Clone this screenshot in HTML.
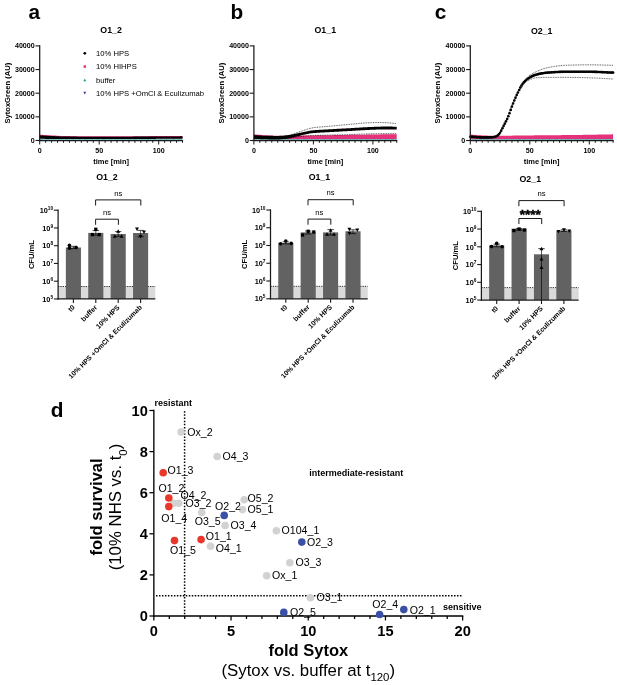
<!DOCTYPE html>
<html lang="en"><head><meta charset="utf-8"><title>Figure</title>
<style>html,body{margin:0;padding:0;background:#fff;}body{width:617px;height:685px;overflow:hidden;font-family:"Liberation Sans", Arial, Helvetica, sans-serif;}svg text{font-family:"Liberation Sans", Arial, Helvetica, sans-serif;}</style>
</head><body>
<svg width="617" height="685" viewBox="0 0 617 685" font-family='"Liberation Sans", Arial, Helvetica, sans-serif' style="display:block">
<text x="28.60" y="19.20" font-size="20.8" font-weight="bold">a</text>
<text x="230.60" y="19.20" font-size="20.8" font-weight="bold">b</text>
<text x="434.80" y="19.20" font-size="20.8" font-weight="bold">c</text>
<text x="50.80" y="417.30" font-size="20.8" font-weight="bold">d</text>
<polygon points="39.70,134.71 40.89,134.78 42.08,134.85 43.27,134.92 44.46,135.00 45.65,135.07 46.84,135.14 48.03,135.21 49.22,135.28 50.41,135.35 51.60,135.42 52.79,135.48 53.98,135.55 55.17,135.62 56.36,135.69 57.55,135.76 58.74,135.83 59.93,135.89 61.12,135.94 62.31,135.98 63.50,136.01 64.69,136.03 65.88,136.05 67.07,136.07 68.26,136.09 69.45,136.11 70.64,136.13 71.83,136.15 73.02,136.16 74.21,136.18 75.40,136.20 76.59,136.21 77.78,136.23 78.97,136.24 80.16,136.25 81.35,136.27 82.54,136.28 83.73,136.29 84.92,136.30 86.11,136.31 87.30,136.32 88.49,136.33 89.68,136.33 90.87,136.34 92.06,136.35 93.25,136.35 94.44,136.35 95.63,136.36 96.82,136.36 98.01,136.36 99.20,136.36 100.39,136.36 101.58,136.36 102.77,136.36 103.96,136.36 105.15,136.36 106.34,136.35 107.53,136.35 108.72,136.35 109.91,136.35 111.10,136.34 112.29,136.34 113.48,136.34 114.67,136.33 115.86,136.33 117.05,136.32 118.24,136.32 119.43,136.31 120.62,136.31 121.81,136.30 123.00,136.30 124.19,136.29 125.38,136.28 126.57,136.28 127.76,136.27 128.95,136.26 130.14,136.25 131.33,136.25 132.52,136.24 133.71,136.23 134.90,136.22 136.09,136.22 137.28,136.21 138.47,136.20 139.66,136.19 140.85,136.18 142.04,136.18 143.23,136.17 144.42,136.16 145.61,136.15 146.80,136.14 147.99,136.13 149.18,136.12 150.37,136.11 151.56,136.10 152.75,136.10 153.94,136.09 155.13,136.08 156.32,136.07 157.51,136.06 158.70,136.05 159.89,136.04 161.08,136.03 162.27,136.02 163.46,136.02 164.65,136.01 165.84,136.00 167.03,135.99 168.22,135.98 169.41,135.97 170.60,135.96 171.79,135.96 172.98,135.95 174.17,135.94 175.36,135.93 176.55,135.92 177.74,135.92 178.93,135.91 180.12,135.90 181.31,135.90 182.50,135.89 182.50,138.37 181.31,138.37 180.12,138.37 178.93,138.37 177.74,138.37 176.55,138.37 175.36,138.37 174.17,138.37 172.98,138.37 171.79,138.37 170.60,138.37 169.41,138.37 168.22,138.37 167.03,138.37 165.84,138.37 164.65,138.37 163.46,138.37 162.27,138.37 161.08,138.37 159.89,138.37 158.70,138.37 157.51,138.37 156.32,138.37 155.13,138.37 153.94,138.37 152.75,138.37 151.56,138.37 150.37,138.37 149.18,138.37 147.99,138.37 146.80,138.37 145.61,138.37 144.42,138.37 143.23,138.37 142.04,138.37 140.85,138.37 139.66,138.37 138.47,138.37 137.28,138.37 136.09,138.37 134.90,138.37 133.71,138.37 132.52,138.37 131.33,138.37 130.14,138.37 128.95,138.37 127.76,138.37 126.57,138.37 125.38,138.37 124.19,138.37 123.00,138.37 121.81,138.37 120.62,138.37 119.43,138.37 118.24,138.37 117.05,138.37 115.86,138.37 114.67,138.37 113.48,138.37 112.29,138.37 111.10,138.37 109.91,138.37 108.72,138.37 107.53,138.37 106.34,138.37 105.15,138.37 103.96,138.37 102.77,138.37 101.58,138.37 100.39,138.37 99.20,138.37 98.01,138.37 96.82,138.37 95.63,138.37 94.44,138.37 93.25,138.37 92.06,138.37 90.87,138.37 89.68,138.37 88.49,138.37 87.30,138.37 86.11,138.37 84.92,138.37 83.73,138.37 82.54,138.37 81.35,138.37 80.16,138.37 78.97,138.37 77.78,138.37 76.59,138.37 75.40,138.37 74.21,138.37 73.02,138.37 71.83,138.37 70.64,138.37 69.45,138.37 68.26,138.37 67.07,138.37 65.88,138.37 64.69,138.37 63.50,138.37 62.31,138.37 61.12,138.37 59.93,138.37 58.74,138.37 57.55,138.37 56.36,138.37 55.17,138.37 53.98,138.37 52.79,138.37 51.60,138.37 50.41,138.37 49.22,138.37 48.03,138.37 46.84,138.37 45.65,138.37 44.46,138.37 43.27,138.37 42.08,138.37 40.89,138.37 39.70,138.37" fill="#e6317b"/>
<polygon points="39.70,135.42 40.89,135.47 42.08,135.54 43.27,135.60 44.46,135.66 45.65,135.72 46.84,135.78 48.03,135.84 49.22,135.90 50.41,135.95 51.60,136.01 52.79,136.06 53.98,136.12 55.17,136.18 56.36,136.23 57.55,136.29 58.74,136.34 59.93,136.39 61.12,136.43 62.31,136.46 63.50,136.48 64.69,136.49 65.88,136.51 67.07,136.52 68.26,136.54 69.45,136.55 70.64,136.56 71.83,136.58 73.02,136.59 74.21,136.60 75.40,136.61 76.59,136.62 77.78,136.63 78.97,136.64 80.16,136.65 81.35,136.66 82.54,136.66 83.73,136.67 84.92,136.68 86.11,136.68 87.30,136.69 88.49,136.69 89.68,136.70 90.87,136.70 92.06,136.71 93.25,136.71 94.44,136.71 95.63,136.71 96.82,136.71 98.01,136.72 99.20,136.72 100.39,136.72 101.58,136.72 102.77,136.71 103.96,136.71 105.15,136.71 106.34,136.71 107.53,136.71 108.72,136.71 109.91,136.71 111.10,136.70 112.29,136.70 113.48,136.70 114.67,136.69 115.86,136.69 117.05,136.69 118.24,136.68 119.43,136.68 120.62,136.68 121.81,136.67 123.00,136.67 124.19,136.66 125.38,136.66 126.57,136.65 127.76,136.65 128.95,136.64 130.14,136.64 131.33,136.63 132.52,136.63 133.71,136.62 134.90,136.61 136.09,136.61 137.28,136.60 138.47,136.60 139.66,136.59 140.85,136.58 142.04,136.58 143.23,136.57 144.42,136.56 145.61,136.56 146.80,136.55 147.99,136.54 149.18,136.54 150.37,136.53 151.56,136.52 152.75,136.52 153.94,136.51 155.13,136.50 156.32,136.50 157.51,136.49 158.70,136.48 159.89,136.48 161.08,136.47 162.27,136.46 163.46,136.46 164.65,136.45 165.84,136.44 167.03,136.44 168.22,136.43 169.41,136.42 170.60,136.42 171.79,136.41 172.98,136.41 174.17,136.40 175.36,136.39 176.55,136.39 177.74,136.38 178.93,136.38 180.12,136.37 181.31,136.37 182.50,136.36 182.50,138.84 181.31,138.85 180.12,138.85 178.93,138.85 177.74,138.85 176.55,138.85 175.36,138.85 174.17,138.85 172.98,138.85 171.79,138.86 170.60,138.86 169.41,138.86 168.22,138.86 167.03,138.86 165.84,138.86 164.65,138.86 163.46,138.87 162.27,138.87 161.08,138.87 159.89,138.87 158.70,138.87 157.51,138.87 156.32,138.87 155.13,138.88 153.94,138.88 152.75,138.88 151.56,138.88 150.37,138.88 149.18,138.88 147.99,138.89 146.80,138.89 145.61,138.89 144.42,138.89 143.23,138.89 142.04,138.89 140.85,138.90 139.66,138.90 138.47,138.90 137.28,138.90 136.09,138.90 134.90,138.90 133.71,138.90 132.52,138.91 131.33,138.91 130.14,138.91 128.95,138.91 127.76,138.91 126.57,138.91 125.38,138.92 124.19,138.92 123.00,138.92 121.81,138.92 120.62,138.92 119.43,138.92 118.24,138.92 117.05,138.93 115.86,138.93 114.67,138.93 113.48,138.93 112.29,138.93 111.10,138.93 109.91,138.93 108.72,138.94 107.53,138.94 106.34,138.94 105.15,138.94 103.96,138.94 102.77,138.94 101.58,138.94 100.39,138.94 99.20,138.94 98.01,138.95 96.82,138.95 95.63,138.95 94.44,138.95 93.25,138.95 92.06,138.95 90.87,138.95 89.68,138.95 88.49,138.95 87.30,138.95 86.11,138.96 84.92,138.96 83.73,138.96 82.54,138.96 81.35,138.96 80.16,138.96 78.97,138.96 77.78,138.96 76.59,138.96 75.40,138.96 74.21,138.96 73.02,138.96 71.83,138.96 70.64,138.96 69.45,138.96 68.26,138.96 67.07,138.96 65.88,138.96 64.69,138.96 63.50,138.96 62.31,138.96 61.12,138.96 59.93,138.96 58.74,138.95 57.55,138.95 56.36,138.94 55.17,138.94 53.98,138.93 52.79,138.93 51.60,138.92 50.41,138.91 49.22,138.90 48.03,138.90 46.84,138.89 45.65,138.88 44.46,138.87 43.27,138.86 42.08,138.86 40.89,138.85 39.70,138.84" fill="#000"/>
<polyline points="39.70,139.46 40.89,139.46 42.08,139.46 43.27,139.46 44.46,139.46 45.65,139.46 46.84,139.46 48.03,139.46 49.22,139.46 50.41,139.46 51.60,139.46 52.79,139.46 53.98,139.46 55.17,139.46 56.36,139.46 57.55,139.46 58.74,139.46 59.93,139.46 61.12,139.46 62.31,139.46 63.50,139.46 64.69,139.46 65.88,139.46 67.07,139.46 68.26,139.46 69.45,139.46 70.64,139.46 71.83,139.46 73.02,139.46 74.21,139.46 75.40,139.46 76.59,139.46 77.78,139.46 78.97,139.46 80.16,139.46 81.35,139.46 82.54,139.46 83.73,139.46 84.92,139.46 86.11,139.46 87.30,139.46 88.49,139.46 89.68,139.46 90.87,139.46 92.06,139.46 93.25,139.46 94.44,139.46 95.63,139.46 96.82,139.46 98.01,139.46 99.20,139.46 100.39,139.46 101.58,139.46 102.77,139.46 103.96,139.46 105.15,139.46 106.34,139.46 107.53,139.46 108.72,139.46 109.91,139.46 111.10,139.46 112.29,139.46 113.48,139.46 114.67,139.46 115.86,139.46 117.05,139.46 118.24,139.46 119.43,139.46 120.62,139.46 121.81,139.46 123.00,139.46 124.19,139.46 125.38,139.46 126.57,139.46 127.76,139.46 128.95,139.46 130.14,139.46 131.33,139.46 132.52,139.46 133.71,139.46 134.90,139.46 136.09,139.46 137.28,139.46 138.47,139.46 139.66,139.46 140.85,139.46 142.04,139.46 143.23,139.46 144.42,139.46 145.61,139.46 146.80,139.46 147.99,139.46 149.18,139.46 150.37,139.46 151.56,139.46 152.75,139.46 153.94,139.46 155.13,139.46 156.32,139.46 157.51,139.46 158.70,139.46 159.89,139.46 161.08,139.46 162.27,139.46 163.46,139.46 164.65,139.46 165.84,139.46 167.03,139.46 168.22,139.46 169.41,139.46 170.60,139.46 171.79,139.46 172.98,139.46 174.17,139.46 175.36,139.46 176.55,139.46 177.74,139.46 178.93,139.46 180.12,139.46 181.31,139.46 182.50,139.46" fill="none" stroke="#1f9d9b" stroke-width="0.7" stroke-linejoin="round"/>
<line x1="39.70" y1="45.30" x2="39.70" y2="141.10" stroke="#1a1a1a" stroke-width="1.25"/>
<line x1="39.10" y1="140.50" x2="183.10" y2="140.50" stroke="#1a1a1a" stroke-width="1.25"/>
<line x1="35.50" y1="140.50" x2="39.70" y2="140.50" stroke="#1a1a1a" stroke-width="1.1"/>
<text x="34.70" y="143.00" font-size="7.1" font-weight="bold" text-anchor="end">0</text>
<line x1="35.50" y1="116.85" x2="39.70" y2="116.85" stroke="#1a1a1a" stroke-width="1.1"/>
<text x="34.70" y="119.35" font-size="7.1" font-weight="bold" text-anchor="end">10000</text>
<line x1="35.50" y1="93.20" x2="39.70" y2="93.20" stroke="#1a1a1a" stroke-width="1.1"/>
<text x="34.70" y="95.70" font-size="7.1" font-weight="bold" text-anchor="end">20000</text>
<line x1="35.50" y1="69.55" x2="39.70" y2="69.55" stroke="#1a1a1a" stroke-width="1.1"/>
<text x="34.70" y="72.05" font-size="7.1" font-weight="bold" text-anchor="end">30000</text>
<line x1="35.50" y1="45.90" x2="39.70" y2="45.90" stroke="#1a1a1a" stroke-width="1.1"/>
<text x="34.70" y="48.40" font-size="7.1" font-weight="bold" text-anchor="end">40000</text>
<line x1="39.70" y1="140.50" x2="39.70" y2="144.50" stroke="#1a1a1a" stroke-width="1.0"/>
<line x1="45.65" y1="140.50" x2="45.65" y2="142.80" stroke="#1a1a1a" stroke-width="1.0"/>
<line x1="51.60" y1="140.50" x2="51.60" y2="142.80" stroke="#1a1a1a" stroke-width="1.0"/>
<line x1="57.55" y1="140.50" x2="57.55" y2="142.80" stroke="#1a1a1a" stroke-width="1.0"/>
<line x1="63.50" y1="140.50" x2="63.50" y2="142.80" stroke="#1a1a1a" stroke-width="1.0"/>
<line x1="69.45" y1="140.50" x2="69.45" y2="142.80" stroke="#1a1a1a" stroke-width="1.0"/>
<line x1="75.40" y1="140.50" x2="75.40" y2="142.80" stroke="#1a1a1a" stroke-width="1.0"/>
<line x1="81.35" y1="140.50" x2="81.35" y2="142.80" stroke="#1a1a1a" stroke-width="1.0"/>
<line x1="87.30" y1="140.50" x2="87.30" y2="142.80" stroke="#1a1a1a" stroke-width="1.0"/>
<line x1="93.25" y1="140.50" x2="93.25" y2="142.80" stroke="#1a1a1a" stroke-width="1.0"/>
<line x1="99.20" y1="140.50" x2="99.20" y2="144.50" stroke="#1a1a1a" stroke-width="1.0"/>
<line x1="105.15" y1="140.50" x2="105.15" y2="142.80" stroke="#1a1a1a" stroke-width="1.0"/>
<line x1="111.10" y1="140.50" x2="111.10" y2="142.80" stroke="#1a1a1a" stroke-width="1.0"/>
<line x1="117.05" y1="140.50" x2="117.05" y2="142.80" stroke="#1a1a1a" stroke-width="1.0"/>
<line x1="123.00" y1="140.50" x2="123.00" y2="142.80" stroke="#1a1a1a" stroke-width="1.0"/>
<line x1="128.95" y1="140.50" x2="128.95" y2="142.80" stroke="#1a1a1a" stroke-width="1.0"/>
<line x1="134.90" y1="140.50" x2="134.90" y2="142.80" stroke="#1a1a1a" stroke-width="1.0"/>
<line x1="140.85" y1="140.50" x2="140.85" y2="142.80" stroke="#1a1a1a" stroke-width="1.0"/>
<line x1="146.80" y1="140.50" x2="146.80" y2="142.80" stroke="#1a1a1a" stroke-width="1.0"/>
<line x1="152.75" y1="140.50" x2="152.75" y2="142.80" stroke="#1a1a1a" stroke-width="1.0"/>
<line x1="158.70" y1="140.50" x2="158.70" y2="144.50" stroke="#1a1a1a" stroke-width="1.0"/>
<line x1="164.65" y1="140.50" x2="164.65" y2="142.80" stroke="#1a1a1a" stroke-width="1.0"/>
<line x1="170.60" y1="140.50" x2="170.60" y2="142.80" stroke="#1a1a1a" stroke-width="1.0"/>
<line x1="176.55" y1="140.50" x2="176.55" y2="142.80" stroke="#1a1a1a" stroke-width="1.0"/>
<line x1="182.50" y1="140.50" x2="182.50" y2="142.80" stroke="#1a1a1a" stroke-width="1.0"/>
<text x="39.70" y="153.40" font-size="7.1" font-weight="bold" text-anchor="middle">0</text>
<text x="99.20" y="153.40" font-size="7.1" font-weight="bold" text-anchor="middle">50</text>
<text x="158.70" y="153.40" font-size="7.1" font-weight="bold" text-anchor="middle">100</text>
<text x="111.10" y="164.40" font-size="7.5" font-weight="bold" text-anchor="middle">time [min]</text>
<text transform="translate(9.70,93.20) rotate(-90)" font-size="7.6" font-weight="bold" text-anchor="middle">SytoxGreen (AU)</text>
<text x="111.10" y="33.40" font-size="8.8" font-weight="bold" text-anchor="middle">O1_2</text>
<circle cx="84.8" cy="53.3" r="1.35" fill="#000"/>
<rect x="83.55" y="65.3" width="2.5" height="2.5" fill="#e6317b"/>
<polygon points="83.35,81.2 86.25,81.2 84.8,78.6" fill="#1f9d9b"/>
<polygon points="83.35,91.8 86.25,91.8 84.8,94.4" fill="#5b2ca0"/>
<text x="96.00" y="55.90" font-size="7.65">10% HPS</text>
<text x="96.00" y="69.20" font-size="7.65">10% HIHPS</text>
<text x="96.00" y="82.60" font-size="7.65">buffer</text>
<text x="96.00" y="95.90" font-size="7.65">10% HPS +OmCl &amp; Eculizumab</text>
<polygon points="253.90,134.35 255.09,134.45 256.28,134.55 257.47,134.66 258.66,134.77 259.85,134.87 261.04,134.97 262.23,135.07 263.42,135.16 264.61,135.23 265.80,135.30 266.99,135.35 268.18,135.41 269.37,135.47 270.56,135.52 271.75,135.58 272.94,135.63 274.13,135.68 275.32,135.72 276.51,135.76 277.70,135.80 278.89,135.83 280.08,135.85 281.27,135.87 282.46,135.88 283.65,135.89 284.84,135.89 286.03,135.88 287.22,135.88 288.41,135.87 289.60,135.85 290.79,135.84 291.98,135.82 293.17,135.81 294.36,135.79 295.55,135.77 296.74,135.74 297.93,135.72 299.12,135.70 300.31,135.67 301.50,135.65 302.69,135.62 303.88,135.60 305.07,135.57 306.26,135.55 307.45,135.52 308.64,135.50 309.83,135.48 311.02,135.45 312.21,135.43 313.40,135.42 314.59,135.40 315.78,135.38 316.97,135.36 318.16,135.34 319.35,135.32 320.54,135.31 321.73,135.29 322.92,135.27 324.11,135.25 325.30,135.24 326.49,135.22 327.68,135.20 328.87,135.18 330.06,135.17 331.25,135.15 332.44,135.13 333.63,135.11 334.82,135.10 336.01,135.08 337.20,135.06 338.39,135.04 339.58,135.03 340.77,135.01 341.96,134.99 343.15,134.98 344.34,134.96 345.53,134.94 346.72,134.92 347.91,134.91 349.10,134.89 350.29,134.87 351.48,134.85 352.67,134.83 353.86,134.82 355.05,134.80 356.24,134.78 357.43,134.76 358.62,134.74 359.81,134.72 361.00,134.71 362.19,134.69 363.38,134.67 364.57,134.65 365.76,134.63 366.95,134.61 368.14,134.59 369.33,134.57 370.52,134.55 371.71,134.53 372.90,134.51 374.09,134.49 375.28,134.47 376.47,134.45 377.66,134.43 378.85,134.41 380.04,134.39 381.23,134.37 382.42,134.35 383.61,134.33 384.80,134.31 385.99,134.29 387.18,134.27 388.37,134.25 389.56,134.23 390.75,134.21 391.94,134.19 393.13,134.17 394.32,134.15 395.51,134.13 396.70,134.11 396.70,139.18 395.51,139.18 394.32,139.18 393.13,139.18 391.94,139.18 390.75,139.18 389.56,139.18 388.37,139.18 387.18,139.18 385.99,139.18 384.80,139.18 383.61,139.18 382.42,139.18 381.23,139.18 380.04,139.18 378.85,139.18 377.66,139.18 376.47,139.18 375.28,139.18 374.09,139.18 372.90,139.18 371.71,139.18 370.52,139.18 369.33,139.18 368.14,139.18 366.95,139.18 365.76,139.18 364.57,139.18 363.38,139.18 362.19,139.18 361.00,139.18 359.81,139.18 358.62,139.18 357.43,139.18 356.24,139.18 355.05,139.18 353.86,139.18 352.67,139.18 351.48,139.18 350.29,139.18 349.10,139.18 347.91,139.18 346.72,139.18 345.53,139.18 344.34,139.18 343.15,139.18 341.96,139.18 340.77,139.18 339.58,139.18 338.39,139.18 337.20,139.18 336.01,139.18 334.82,139.18 333.63,139.18 332.44,139.18 331.25,139.18 330.06,139.18 328.87,139.18 327.68,139.18 326.49,139.18 325.30,139.18 324.11,139.18 322.92,139.18 321.73,139.18 320.54,139.18 319.35,139.18 318.16,139.18 316.97,139.18 315.78,139.18 314.59,139.18 313.40,139.18 312.21,139.18 311.02,139.18 309.83,139.18 308.64,139.18 307.45,139.18 306.26,139.18 305.07,139.18 303.88,139.18 302.69,139.18 301.50,139.18 300.31,139.18 299.12,139.18 297.93,139.18 296.74,139.18 295.55,139.18 294.36,139.18 293.17,139.18 291.98,139.18 290.79,139.18 289.60,139.18 288.41,139.18 287.22,139.18 286.03,139.18 284.84,139.18 283.65,139.18 282.46,139.18 281.27,139.18 280.08,139.18 278.89,139.18 277.70,139.18 276.51,139.18 275.32,139.18 274.13,139.18 272.94,139.18 271.75,139.18 270.56,139.18 269.37,139.18 268.18,139.18 266.99,139.18 265.80,139.18 264.61,139.18 263.42,139.18 262.23,139.18 261.04,139.18 259.85,139.18 258.66,139.18 257.47,139.18 256.28,139.18 255.09,139.18 253.90,139.18" fill="#e6317b"/>
<polyline points="253.90,139.46 255.09,139.46 256.28,139.46 257.47,139.46 258.66,139.46 259.85,139.46 261.04,139.46 262.23,139.46 263.42,139.46 264.61,139.46 265.80,139.46 266.99,139.46 268.18,139.46 269.37,139.46 270.56,139.46 271.75,139.46 272.94,139.46 274.13,139.46 275.32,139.46 276.51,139.46 277.70,139.46 278.89,139.46 280.08,139.46 281.27,139.46 282.46,139.46 283.65,139.46 284.84,139.46 286.03,139.46 287.22,139.46 288.41,139.46 289.60,139.46 290.79,139.46 291.98,139.46 293.17,139.46 294.36,139.46 295.55,139.46 296.74,139.46 297.93,139.46 299.12,139.46 300.31,139.46 301.50,139.46 302.69,139.46 303.88,139.46 305.07,139.46 306.26,139.46 307.45,139.46 308.64,139.46 309.83,139.46 311.02,139.46 312.21,139.46 313.40,139.46 314.59,139.46 315.78,139.46 316.97,139.46 318.16,139.46 319.35,139.46 320.54,139.46 321.73,139.46 322.92,139.46 324.11,139.46 325.30,139.46 326.49,139.46 327.68,139.46 328.87,139.46 330.06,139.46 331.25,139.46 332.44,139.46 333.63,139.46 334.82,139.46 336.01,139.46 337.20,139.46 338.39,139.46 339.58,139.46 340.77,139.46 341.96,139.46 343.15,139.46 344.34,139.46 345.53,139.46 346.72,139.46 347.91,139.46 349.10,139.46 350.29,139.46 351.48,139.46 352.67,139.46 353.86,139.46 355.05,139.46 356.24,139.46 357.43,139.46 358.62,139.46 359.81,139.46 361.00,139.46 362.19,139.46 363.38,139.46 364.57,139.46 365.76,139.46 366.95,139.46 368.14,139.46 369.33,139.46 370.52,139.46 371.71,139.46 372.90,139.46 374.09,139.46 375.28,139.46 376.47,139.46 377.66,139.46 378.85,139.46 380.04,139.46 381.23,139.46 382.42,139.46 383.61,139.46 384.80,139.46 385.99,139.46 387.18,139.46 388.37,139.46 389.56,139.46 390.75,139.46 391.94,139.46 393.13,139.46 394.32,139.46 395.51,139.46 396.70,139.46" fill="none" stroke="#1f9d9b" stroke-width="0.7" stroke-linejoin="round"/>
<polyline points="253.90,136.01 255.09,136.06 256.28,136.11 257.47,136.17 258.66,136.23 259.85,136.29 261.04,136.35 262.23,136.41 263.42,136.48 264.61,136.54 265.80,136.60 266.99,136.66 268.18,136.71 269.37,136.76 270.56,136.81 271.75,136.85 272.94,136.88 274.13,136.91 275.32,136.93 276.51,136.95 277.70,136.95 278.89,136.92 280.08,136.84 281.27,136.72 282.46,136.57 283.65,136.39 284.84,136.20 286.03,136.01 287.22,135.78 288.41,135.49 289.60,135.15 290.79,134.77 291.98,134.37 293.17,133.97 294.36,133.56 295.55,133.17 296.74,132.78 297.93,132.37 299.12,131.96 300.31,131.54 301.50,131.12 302.69,130.72 303.88,130.33 305.07,129.94 306.26,129.54 307.45,129.14 308.64,128.76 309.83,128.41 311.02,128.12 312.21,127.89 313.40,127.72 314.59,127.56 315.78,127.42 316.97,127.29 318.16,127.17 319.35,127.06 320.54,126.96 321.73,126.86 322.92,126.77 324.11,126.68 325.30,126.59 326.49,126.50 327.68,126.40 328.87,126.30 330.06,126.19 331.25,126.08 332.44,125.97 333.63,125.85 334.82,125.74 336.01,125.63 337.20,125.52 338.39,125.41 339.58,125.29 340.77,125.18 341.96,125.07 343.15,124.96 344.34,124.85 345.53,124.74 346.72,124.63 347.91,124.52 349.10,124.42 350.29,124.31 351.48,124.20 352.67,124.08 353.86,123.96 355.05,123.84 356.24,123.72 357.43,123.60 358.62,123.49 359.81,123.38 361.00,123.27 362.19,123.18 363.38,123.09 364.57,123.01 365.76,122.94 366.95,122.88 368.14,122.83 369.33,122.78 370.52,122.73 371.71,122.68 372.90,122.64 374.09,122.60 375.28,122.57 376.47,122.55 377.66,122.53 378.85,122.53 380.04,122.53 381.23,122.55 382.42,122.58 383.61,122.62 384.80,122.66 385.99,122.71 387.18,122.76 388.37,122.83 389.56,122.91 390.75,123.01 391.94,123.12 393.13,123.24 394.32,123.36 395.51,123.48 396.70,123.59" fill="none" stroke="#000" stroke-width="0.7" stroke-dasharray="0.9 0.8" stroke-linejoin="round"/>
<polyline points="253.90,137.90 255.09,137.92 256.28,137.95 257.47,137.98 258.66,138.01 259.85,138.04 261.04,138.07 262.23,138.10 263.42,138.13 264.61,138.16 265.80,138.19 266.99,138.22 268.18,138.25 269.37,138.28 270.56,138.30 271.75,138.32 272.94,138.34 274.13,138.35 275.32,138.36 276.51,138.37 277.70,138.37 278.89,138.36 280.08,138.35 281.27,138.31 282.46,138.27 283.65,138.22 284.84,138.17 286.03,138.10 287.22,138.04 288.41,137.97 289.60,137.90 290.79,137.81 291.98,137.70 293.17,137.56 294.36,137.41 295.55,137.25 296.74,137.08 297.93,136.92 299.12,136.76 300.31,136.61 301.50,136.48 302.69,136.36 303.88,136.23 305.07,136.11 306.26,135.99 307.45,135.87 308.64,135.77 309.83,135.67 311.02,135.59 312.21,135.53 313.40,135.49 314.59,135.44 315.78,135.40 316.97,135.37 318.16,135.33 319.35,135.30 320.54,135.27 321.73,135.25 322.92,135.22 324.11,135.19 325.30,135.17 326.49,135.14 327.68,135.12 328.87,135.09 330.06,135.06 331.25,135.03 332.44,135.00 333.63,134.97 334.82,134.94 336.01,134.92 337.20,134.89 338.39,134.86 339.58,134.83 340.77,134.80 341.96,134.77 343.15,134.75 344.34,134.72 345.53,134.69 346.72,134.65 347.91,134.62 349.10,134.59 350.29,134.55 351.48,134.51 352.67,134.47 353.86,134.43 355.05,134.38 356.24,134.33 357.43,134.28 358.62,134.24 359.81,134.19 361.00,134.14 362.19,134.09 363.38,134.04 364.57,134.00 365.76,133.95 366.95,133.91 368.14,133.87 369.33,133.84 370.52,133.81 371.71,133.78 372.90,133.76 374.09,133.74 375.28,133.72 376.47,133.71 377.66,133.69 378.85,133.68 380.04,133.66 381.23,133.65 382.42,133.64 383.61,133.62 384.80,133.61 385.99,133.60 387.18,133.59 388.37,133.58 389.56,133.57 390.75,133.56 391.94,133.55 393.13,133.54 394.32,133.52 395.51,133.51 396.70,133.50" fill="none" stroke="#000" stroke-width="0.7" stroke-dasharray="0.9 0.8" stroke-linejoin="round"/>
<polygon points="253.90,135.16 255.09,135.22 256.28,135.29 257.47,135.36 258.66,135.44 259.85,135.51 261.04,135.58 262.23,135.64 263.42,135.69 264.61,135.73 265.80,135.76 266.99,135.78 268.18,135.80 269.37,135.82 270.56,135.84 271.75,135.85 272.94,135.87 274.13,135.88 275.32,135.89 276.51,135.89 277.70,135.90 278.89,135.88 280.08,135.83 281.27,135.76 282.46,135.67 283.65,135.56 284.84,135.45 286.03,135.34 287.22,135.22 288.41,135.06 289.60,134.88 290.79,134.68 291.98,134.47 293.17,134.24 294.36,134.02 295.55,133.80 296.74,133.57 297.93,133.32 299.12,133.06 300.31,132.79 301.50,132.51 302.69,132.24 303.88,131.99 305.07,131.73 306.26,131.46 307.45,131.20 308.64,130.95 309.83,130.72 311.02,130.52 312.21,130.38 313.40,130.26 314.59,130.16 315.78,130.07 316.97,129.98 318.16,129.90 319.35,129.83 320.54,129.76 321.73,129.70 322.92,129.64 324.11,129.58 325.30,129.52 326.49,129.46 327.68,129.40 328.87,129.33 330.06,129.27 331.25,129.20 332.44,129.13 333.63,129.06 334.82,128.99 336.01,128.92 337.20,128.86 338.39,128.79 339.58,128.73 340.77,128.66 341.96,128.59 343.15,128.53 344.34,128.46 345.53,128.40 346.72,128.33 347.91,128.27 349.10,128.20 350.29,128.14 351.48,128.07 352.67,128.00 353.86,127.93 355.05,127.86 356.24,127.78 357.43,127.71 358.62,127.64 359.81,127.57 361.00,127.50 362.19,127.43 363.38,127.36 364.57,127.29 365.76,127.23 366.95,127.17 368.14,127.11 369.33,127.05 370.52,127.00 371.71,126.95 372.90,126.90 374.09,126.86 375.28,126.81 376.47,126.76 377.66,126.71 378.85,126.67 380.04,126.63 381.23,126.60 382.42,126.57 383.61,126.55 384.80,126.55 385.99,126.55 387.18,126.56 388.37,126.57 389.56,126.58 390.75,126.60 391.94,126.62 393.13,126.64 394.32,126.66 395.51,126.67 396.70,126.69 396.70,129.53 395.51,129.51 394.32,129.49 393.13,129.47 391.94,129.46 390.75,129.44 389.56,129.42 388.37,129.41 387.18,129.39 385.99,129.39 384.80,129.38 383.61,129.39 382.42,129.41 381.23,129.43 380.04,129.47 378.85,129.51 377.66,129.55 376.47,129.60 375.28,129.65 374.09,129.69 372.90,129.74 371.71,129.79 370.52,129.84 369.33,129.89 368.14,129.95 366.95,130.01 365.76,130.07 364.57,130.13 363.38,130.20 362.19,130.27 361.00,130.34 359.81,130.41 358.62,130.48 357.43,130.55 356.24,130.62 355.05,130.69 353.86,130.76 352.67,130.84 351.48,130.90 350.29,130.97 349.10,131.04 347.91,131.11 346.72,131.17 345.53,131.24 344.34,131.30 343.15,131.37 341.96,131.43 340.77,131.50 339.58,131.56 338.39,131.63 337.20,131.70 336.01,131.76 334.82,131.83 333.63,131.90 332.44,131.97 331.25,132.03 330.06,132.10 328.87,132.17 327.68,132.24 326.49,132.30 325.30,132.36 324.11,132.42 322.92,132.47 321.73,132.54 320.54,132.60 319.35,132.67 318.16,132.74 316.97,132.82 315.78,132.90 314.59,133.00 313.40,133.10 312.21,133.22 311.02,133.36 309.83,133.56 308.64,133.78 307.45,134.04 306.26,134.30 305.07,134.57 303.88,134.82 302.69,135.08 301.50,135.35 300.31,135.64 299.12,135.93 297.93,136.23 296.74,136.52 295.55,136.80 294.36,137.08 293.17,137.36 291.98,137.65 290.79,137.93 289.60,138.20 288.41,138.43 287.22,138.64 286.03,138.80 284.84,138.94 283.65,139.06 282.46,139.18 281.27,139.28 280.08,139.35 278.89,139.41 277.70,139.43 276.51,139.43 275.32,139.43 274.13,139.42 272.94,139.41 271.75,139.40 270.56,139.39 269.37,139.38 268.18,139.36 266.99,139.34 265.80,139.33 264.61,139.30 263.42,139.26 262.23,139.21 261.04,139.15 259.85,139.09 258.66,139.02 257.47,138.95 256.28,138.88 255.09,138.81 253.90,138.75" fill="#000"/>
<line x1="253.90" y1="45.30" x2="253.90" y2="141.10" stroke="#1a1a1a" stroke-width="1.25"/>
<line x1="253.30" y1="140.50" x2="397.30" y2="140.50" stroke="#1a1a1a" stroke-width="1.25"/>
<line x1="249.70" y1="140.50" x2="253.90" y2="140.50" stroke="#1a1a1a" stroke-width="1.1"/>
<text x="248.90" y="143.00" font-size="7.1" font-weight="bold" text-anchor="end">0</text>
<line x1="249.70" y1="116.85" x2="253.90" y2="116.85" stroke="#1a1a1a" stroke-width="1.1"/>
<text x="248.90" y="119.35" font-size="7.1" font-weight="bold" text-anchor="end">10000</text>
<line x1="249.70" y1="93.20" x2="253.90" y2="93.20" stroke="#1a1a1a" stroke-width="1.1"/>
<text x="248.90" y="95.70" font-size="7.1" font-weight="bold" text-anchor="end">20000</text>
<line x1="249.70" y1="69.55" x2="253.90" y2="69.55" stroke="#1a1a1a" stroke-width="1.1"/>
<text x="248.90" y="72.05" font-size="7.1" font-weight="bold" text-anchor="end">30000</text>
<line x1="249.70" y1="45.90" x2="253.90" y2="45.90" stroke="#1a1a1a" stroke-width="1.1"/>
<text x="248.90" y="48.40" font-size="7.1" font-weight="bold" text-anchor="end">40000</text>
<line x1="253.90" y1="140.50" x2="253.90" y2="144.50" stroke="#1a1a1a" stroke-width="1.0"/>
<line x1="259.85" y1="140.50" x2="259.85" y2="142.80" stroke="#1a1a1a" stroke-width="1.0"/>
<line x1="265.80" y1="140.50" x2="265.80" y2="142.80" stroke="#1a1a1a" stroke-width="1.0"/>
<line x1="271.75" y1="140.50" x2="271.75" y2="142.80" stroke="#1a1a1a" stroke-width="1.0"/>
<line x1="277.70" y1="140.50" x2="277.70" y2="142.80" stroke="#1a1a1a" stroke-width="1.0"/>
<line x1="283.65" y1="140.50" x2="283.65" y2="142.80" stroke="#1a1a1a" stroke-width="1.0"/>
<line x1="289.60" y1="140.50" x2="289.60" y2="142.80" stroke="#1a1a1a" stroke-width="1.0"/>
<line x1="295.55" y1="140.50" x2="295.55" y2="142.80" stroke="#1a1a1a" stroke-width="1.0"/>
<line x1="301.50" y1="140.50" x2="301.50" y2="142.80" stroke="#1a1a1a" stroke-width="1.0"/>
<line x1="307.45" y1="140.50" x2="307.45" y2="142.80" stroke="#1a1a1a" stroke-width="1.0"/>
<line x1="313.40" y1="140.50" x2="313.40" y2="144.50" stroke="#1a1a1a" stroke-width="1.0"/>
<line x1="319.35" y1="140.50" x2="319.35" y2="142.80" stroke="#1a1a1a" stroke-width="1.0"/>
<line x1="325.30" y1="140.50" x2="325.30" y2="142.80" stroke="#1a1a1a" stroke-width="1.0"/>
<line x1="331.25" y1="140.50" x2="331.25" y2="142.80" stroke="#1a1a1a" stroke-width="1.0"/>
<line x1="337.20" y1="140.50" x2="337.20" y2="142.80" stroke="#1a1a1a" stroke-width="1.0"/>
<line x1="343.15" y1="140.50" x2="343.15" y2="142.80" stroke="#1a1a1a" stroke-width="1.0"/>
<line x1="349.10" y1="140.50" x2="349.10" y2="142.80" stroke="#1a1a1a" stroke-width="1.0"/>
<line x1="355.05" y1="140.50" x2="355.05" y2="142.80" stroke="#1a1a1a" stroke-width="1.0"/>
<line x1="361.00" y1="140.50" x2="361.00" y2="142.80" stroke="#1a1a1a" stroke-width="1.0"/>
<line x1="366.95" y1="140.50" x2="366.95" y2="142.80" stroke="#1a1a1a" stroke-width="1.0"/>
<line x1="372.90" y1="140.50" x2="372.90" y2="144.50" stroke="#1a1a1a" stroke-width="1.0"/>
<line x1="378.85" y1="140.50" x2="378.85" y2="142.80" stroke="#1a1a1a" stroke-width="1.0"/>
<line x1="384.80" y1="140.50" x2="384.80" y2="142.80" stroke="#1a1a1a" stroke-width="1.0"/>
<line x1="390.75" y1="140.50" x2="390.75" y2="142.80" stroke="#1a1a1a" stroke-width="1.0"/>
<line x1="396.70" y1="140.50" x2="396.70" y2="142.80" stroke="#1a1a1a" stroke-width="1.0"/>
<text x="253.90" y="153.40" font-size="7.1" font-weight="bold" text-anchor="middle">0</text>
<text x="313.40" y="153.40" font-size="7.1" font-weight="bold" text-anchor="middle">50</text>
<text x="372.90" y="153.40" font-size="7.1" font-weight="bold" text-anchor="middle">100</text>
<text x="325.30" y="164.40" font-size="7.5" font-weight="bold" text-anchor="middle">time [min]</text>
<text transform="translate(223.90,93.20) rotate(-90)" font-size="7.6" font-weight="bold" text-anchor="middle">SytoxGreen (AU)</text>
<text x="325.30" y="33.40" font-size="8.8" font-weight="bold" text-anchor="middle">O1_1</text>
<polygon points="470.30,134.59 471.49,134.67 472.68,134.76 473.87,134.86 475.06,134.95 476.25,135.04 477.44,135.13 478.63,135.22 479.82,135.29 481.01,135.36 482.20,135.42 483.39,135.47 484.58,135.52 485.77,135.56 486.96,135.61 488.15,135.65 489.34,135.69 490.53,135.72 491.72,135.75 492.91,135.76 494.10,135.77 495.29,135.77 496.48,135.77 497.67,135.76 498.86,135.76 500.05,135.75 501.24,135.74 502.43,135.74 503.62,135.73 504.81,135.72 506.00,135.70 507.19,135.69 508.38,135.68 509.57,135.67 510.76,135.65 511.95,135.64 513.14,135.62 514.33,135.61 515.52,135.59 516.71,135.58 517.90,135.56 519.09,135.54 520.28,135.53 521.47,135.51 522.66,135.50 523.85,135.48 525.04,135.47 526.23,135.45 527.42,135.44 528.61,135.43 529.80,135.42 530.99,135.40 532.18,135.39 533.37,135.38 534.56,135.37 535.75,135.36 536.94,135.35 538.13,135.34 539.32,135.32 540.51,135.31 541.70,135.30 542.89,135.29 544.08,135.28 545.27,135.27 546.46,135.26 547.65,135.25 548.84,135.24 550.03,135.23 551.22,135.22 552.41,135.21 553.60,135.19 554.79,135.18 555.98,135.17 557.17,135.16 558.36,135.15 559.55,135.14 560.74,135.13 561.93,135.11 563.12,135.10 564.31,135.09 565.50,135.08 566.69,135.07 567.88,135.05 569.07,135.04 570.26,135.03 571.45,135.01 572.64,135.00 573.83,134.99 575.02,134.97 576.21,134.96 577.40,134.94 578.59,134.93 579.78,134.91 580.97,134.89 582.16,134.88 583.35,134.86 584.54,134.84 585.73,134.82 586.92,134.81 588.11,134.79 589.30,134.77 590.49,134.75 591.68,134.73 592.87,134.71 594.06,134.69 595.25,134.66 596.44,134.64 597.63,134.62 598.82,134.60 600.01,134.58 601.20,134.56 602.39,134.54 603.58,134.52 604.77,134.49 605.96,134.47 607.15,134.45 608.34,134.43 609.53,134.41 610.72,134.39 611.91,134.37 613.10,134.35 613.10,139.18 611.91,139.18 610.72,139.18 609.53,139.18 608.34,139.18 607.15,139.18 605.96,139.18 604.77,139.18 603.58,139.18 602.39,139.18 601.20,139.18 600.01,139.18 598.82,139.18 597.63,139.18 596.44,139.18 595.25,139.18 594.06,139.18 592.87,139.18 591.68,139.18 590.49,139.18 589.30,139.18 588.11,139.18 586.92,139.18 585.73,139.18 584.54,139.18 583.35,139.18 582.16,139.18 580.97,139.18 579.78,139.18 578.59,139.18 577.40,139.18 576.21,139.18 575.02,139.18 573.83,139.18 572.64,139.18 571.45,139.18 570.26,139.18 569.07,139.18 567.88,139.18 566.69,139.18 565.50,139.18 564.31,139.18 563.12,139.18 561.93,139.18 560.74,139.18 559.55,139.18 558.36,139.18 557.17,139.18 555.98,139.18 554.79,139.18 553.60,139.18 552.41,139.18 551.22,139.18 550.03,139.18 548.84,139.18 547.65,139.18 546.46,139.18 545.27,139.18 544.08,139.18 542.89,139.18 541.70,139.18 540.51,139.18 539.32,139.18 538.13,139.18 536.94,139.18 535.75,139.18 534.56,139.18 533.37,139.18 532.18,139.18 530.99,139.18 529.80,139.18 528.61,139.18 527.42,139.18 526.23,139.18 525.04,139.18 523.85,139.18 522.66,139.18 521.47,139.18 520.28,139.18 519.09,139.18 517.90,139.18 516.71,139.18 515.52,139.18 514.33,139.18 513.14,139.18 511.95,139.18 510.76,139.18 509.57,139.18 508.38,139.18 507.19,139.18 506.00,139.18 504.81,139.18 503.62,139.18 502.43,139.18 501.24,139.18 500.05,139.18 498.86,139.18 497.67,139.18 496.48,139.18 495.29,139.18 494.10,139.18 492.91,139.18 491.72,139.18 490.53,139.18 489.34,139.18 488.15,139.18 486.96,139.18 485.77,139.18 484.58,139.18 483.39,139.18 482.20,139.18 481.01,139.18 479.82,139.18 478.63,139.18 477.44,139.18 476.25,139.18 475.06,139.18 473.87,139.18 472.68,139.18 471.49,139.18 470.30,139.18" fill="#e6317b"/>
<polyline points="470.30,139.46 471.49,139.46 472.68,139.46 473.87,139.46 475.06,139.46 476.25,139.46 477.44,139.46 478.63,139.46 479.82,139.46 481.01,139.46 482.20,139.46 483.39,139.46 484.58,139.46 485.77,139.46 486.96,139.46 488.15,139.46 489.34,139.46 490.53,139.46 491.72,139.46 492.91,139.46 494.10,139.46 495.29,139.46 496.48,139.46 497.67,139.46 498.86,139.46 500.05,139.46 501.24,139.46 502.43,139.46 503.62,139.46 504.81,139.46 506.00,139.46 507.19,139.46 508.38,139.46 509.57,139.46 510.76,139.46 511.95,139.46 513.14,139.46 514.33,139.46 515.52,139.46 516.71,139.46 517.90,139.46 519.09,139.46 520.28,139.46 521.47,139.46 522.66,139.46 523.85,139.46 525.04,139.46 526.23,139.46 527.42,139.46 528.61,139.46 529.80,139.46 530.99,139.46 532.18,139.46 533.37,139.46 534.56,139.46 535.75,139.46 536.94,139.46 538.13,139.46 539.32,139.46 540.51,139.46 541.70,139.46 542.89,139.46 544.08,139.46 545.27,139.46 546.46,139.46 547.65,139.46 548.84,139.46 550.03,139.46 551.22,139.46 552.41,139.46 553.60,139.46 554.79,139.46 555.98,139.46 557.17,139.46 558.36,139.46 559.55,139.46 560.74,139.46 561.93,139.46 563.12,139.46 564.31,139.46 565.50,139.46 566.69,139.46 567.88,139.46 569.07,139.46 570.26,139.46 571.45,139.46 572.64,139.46 573.83,139.46 575.02,139.46 576.21,139.46 577.40,139.46 578.59,139.46 579.78,139.46 580.97,139.46 582.16,139.46 583.35,139.46 584.54,139.46 585.73,139.46 586.92,139.46 588.11,139.46 589.30,139.46 590.49,139.46 591.68,139.46 592.87,139.46 594.06,139.46 595.25,139.46 596.44,139.46 597.63,139.46 598.82,139.46 600.01,139.46 601.20,139.46 602.39,139.46 603.58,139.46 604.77,139.46 605.96,139.46 607.15,139.46 608.34,139.46 609.53,139.46 610.72,139.46 611.91,139.46 613.10,139.46" fill="none" stroke="#1f9d9b" stroke-width="0.7" stroke-linejoin="round"/>
<polyline points="470.30,136.01 471.49,136.05 472.68,136.09 473.87,136.14 475.06,136.19 476.25,136.24 477.44,136.30 478.63,136.35 479.82,136.40 481.01,136.45 482.20,136.50 483.39,136.54 484.58,136.58 485.77,136.62 486.96,136.65 488.15,136.68 489.34,136.70 490.53,136.71 491.72,136.72 492.91,136.62 494.10,136.36 495.29,135.95 496.48,135.43 497.67,134.82 498.86,133.74 500.05,131.96 501.24,129.77 502.43,127.44 503.62,125.17 504.81,122.70 506.00,119.99 507.19,117.10 508.38,114.08 509.57,110.99 510.76,107.86 511.95,104.76 513.14,101.73 514.33,98.83 515.52,96.10 516.71,93.60 517.90,91.37 519.09,89.22 520.28,87.10 521.47,85.06 522.66,83.12 523.85,81.33 525.04,79.70 526.23,78.29 527.42,77.12 528.61,76.13 529.80,75.25 530.99,74.46 532.18,73.74 533.37,73.08 534.56,72.48 535.75,71.92 536.94,71.37 538.13,70.84 539.32,70.34 540.51,69.85 541.70,69.40 542.89,68.97 544.08,68.58 545.27,68.23 546.46,67.92 547.65,67.66 548.84,67.42 550.03,67.20 551.22,66.98 552.41,66.77 553.60,66.56 554.79,66.37 555.98,66.20 557.17,66.03 558.36,65.88 559.55,65.74 560.74,65.61 561.93,65.51 563.12,65.42 564.31,65.35 565.50,65.29 566.69,65.25 567.88,65.21 569.07,65.17 570.26,65.13 571.45,65.10 572.64,65.07 573.83,65.03 575.02,65.00 576.21,64.98 577.40,64.95 578.59,64.93 579.78,64.90 580.97,64.89 582.16,64.87 583.35,64.85 584.54,64.84 585.73,64.83 586.92,64.83 588.11,64.82 589.30,64.82 590.49,64.82 591.68,64.83 592.87,64.84 594.06,64.85 595.25,64.87 596.44,64.89 597.63,64.92 598.82,64.94 600.01,64.97 601.20,65.00 602.39,65.03 603.58,65.06 604.77,65.09 605.96,65.12 607.15,65.15 608.34,65.18 609.53,65.21 610.72,65.24 611.91,65.27 613.10,65.29" fill="none" stroke="#000" stroke-width="0.7" stroke-dasharray="0.9 0.8" stroke-linejoin="round"/>
<polyline points="470.30,137.43 471.49,137.45 472.68,137.48 473.87,137.52 475.06,137.55 476.25,137.58 477.44,137.62 478.63,137.65 479.82,137.69 481.01,137.72 482.20,137.75 483.39,137.78 484.58,137.81 485.77,137.84 486.96,137.86 488.15,137.87 489.34,137.89 490.53,137.90 491.72,137.90 492.91,137.82 494.10,137.59 495.29,137.24 496.48,136.78 497.67,136.24 498.86,135.20 500.05,133.41 501.24,131.20 502.43,128.85 503.62,126.60 504.81,124.16 506.00,121.48 507.19,118.63 508.38,115.67 509.57,112.63 510.76,109.58 511.95,106.56 513.14,103.62 514.33,100.83 515.52,98.23 516.71,95.86 517.90,93.78 519.09,91.76 520.28,89.75 521.47,87.82 522.66,86.00 523.85,84.36 525.04,82.92 526.23,81.76 527.42,80.90 528.61,80.24 529.80,79.63 530.99,79.09 532.18,78.63 533.37,78.25 534.56,77.98 535.75,77.83 536.94,77.74 538.13,77.66 539.32,77.59 540.51,77.53 541.70,77.48 542.89,77.43 544.08,77.40 545.27,77.38 546.46,77.36 547.65,77.35 548.84,77.35 550.03,77.35 551.22,77.35 552.41,77.35 553.60,77.35 554.79,77.35 555.98,77.35 557.17,77.35 558.36,77.35 559.55,77.35 560.74,77.35 561.93,77.35 563.12,77.35 564.31,77.35 565.50,77.35 566.69,77.36 567.88,77.36 569.07,77.37 570.26,77.38 571.45,77.40 572.64,77.41 573.83,77.43 575.02,77.46 576.21,77.48 577.40,77.51 578.59,77.53 579.78,77.56 580.97,77.59 582.16,77.63 583.35,77.66 584.54,77.69 585.73,77.73 586.92,77.76 588.11,77.79 589.30,77.83 590.49,77.86 591.68,77.90 592.87,77.95 594.06,78.00 595.25,78.05 596.44,78.11 597.63,78.17 598.82,78.23 600.01,78.29 601.20,78.36 602.39,78.42 603.58,78.49 604.77,78.56 605.96,78.62 607.15,78.69 608.34,78.76 609.53,78.82 610.72,78.89 611.91,78.95 613.10,79.01" fill="none" stroke="#000" stroke-width="0.7" stroke-dasharray="0.9 0.8" stroke-linejoin="round"/>
<circle cx="470.30" cy="136.72" r="1.3" fill="#000"/>
<circle cx="471.49" cy="136.79" r="1.3" fill="#000"/>
<circle cx="472.68" cy="136.88" r="1.3" fill="#000"/>
<circle cx="473.87" cy="136.97" r="1.3" fill="#000"/>
<circle cx="475.06" cy="137.07" r="1.3" fill="#000"/>
<circle cx="476.25" cy="137.16" r="1.3" fill="#000"/>
<circle cx="477.44" cy="137.24" r="1.3" fill="#000"/>
<circle cx="478.63" cy="137.32" r="1.3" fill="#000"/>
<circle cx="479.82" cy="137.37" r="1.3" fill="#000"/>
<circle cx="481.01" cy="137.41" r="1.3" fill="#000"/>
<circle cx="482.20" cy="137.43" r="1.3" fill="#000"/>
<circle cx="483.39" cy="137.42" r="1.3" fill="#000"/>
<circle cx="484.58" cy="137.42" r="1.3" fill="#000"/>
<circle cx="485.77" cy="137.41" r="1.3" fill="#000"/>
<circle cx="486.96" cy="137.40" r="1.3" fill="#000"/>
<circle cx="488.15" cy="137.38" r="1.3" fill="#000"/>
<circle cx="489.34" cy="137.36" r="1.3" fill="#000"/>
<circle cx="490.53" cy="137.34" r="1.3" fill="#000"/>
<circle cx="491.72" cy="137.31" r="1.3" fill="#000"/>
<circle cx="492.91" cy="137.21" r="1.3" fill="#000"/>
<circle cx="494.10" cy="137.00" r="1.3" fill="#000"/>
<circle cx="495.29" cy="136.72" r="1.3" fill="#000"/>
<circle cx="496.48" cy="136.26" r="1.3" fill="#000"/>
<circle cx="497.67" cy="135.53" r="1.3" fill="#000"/>
<circle cx="498.86" cy="134.34" r="1.3" fill="#000"/>
<circle cx="500.05" cy="132.70" r="1.3" fill="#000"/>
<circle cx="501.24" cy="130.63" r="1.3" fill="#000"/>
<circle cx="502.43" cy="128.21" r="1.3" fill="#000"/>
<circle cx="503.62" cy="125.88" r="1.3" fill="#000"/>
<circle cx="504.81" cy="123.63" r="1.3" fill="#000"/>
<circle cx="506.00" cy="121.35" r="1.3" fill="#000"/>
<circle cx="507.19" cy="118.94" r="1.3" fill="#000"/>
<circle cx="508.38" cy="116.29" r="1.3" fill="#000"/>
<circle cx="509.57" cy="113.22" r="1.3" fill="#000"/>
<circle cx="510.76" cy="109.88" r="1.3" fill="#000"/>
<circle cx="511.95" cy="106.58" r="1.3" fill="#000"/>
<circle cx="513.14" cy="103.53" r="1.3" fill="#000"/>
<circle cx="514.33" cy="100.57" r="1.3" fill="#000"/>
<circle cx="515.52" cy="97.70" r="1.3" fill="#000"/>
<circle cx="516.71" cy="94.99" r="1.3" fill="#000"/>
<circle cx="517.90" cy="92.46" r="1.3" fill="#000"/>
<circle cx="519.09" cy="89.99" r="1.3" fill="#000"/>
<circle cx="520.28" cy="87.62" r="1.3" fill="#000"/>
<circle cx="521.47" cy="85.50" r="1.3" fill="#000"/>
<circle cx="522.66" cy="83.74" r="1.3" fill="#000"/>
<circle cx="523.85" cy="82.29" r="1.3" fill="#000"/>
<circle cx="525.04" cy="81.02" r="1.3" fill="#000"/>
<circle cx="526.23" cy="79.93" r="1.3" fill="#000"/>
<circle cx="527.42" cy="79.01" r="1.3" fill="#000"/>
<circle cx="528.61" cy="78.21" r="1.3" fill="#000"/>
<circle cx="529.80" cy="77.45" r="1.3" fill="#000"/>
<circle cx="530.99" cy="76.76" r="1.3" fill="#000"/>
<circle cx="532.18" cy="76.14" r="1.3" fill="#000"/>
<circle cx="533.37" cy="75.59" r="1.3" fill="#000"/>
<circle cx="534.56" cy="75.13" r="1.3" fill="#000"/>
<circle cx="535.75" cy="74.75" r="1.3" fill="#000"/>
<circle cx="536.94" cy="74.44" r="1.3" fill="#000"/>
<circle cx="538.13" cy="74.15" r="1.3" fill="#000"/>
<circle cx="539.32" cy="73.87" r="1.3" fill="#000"/>
<circle cx="540.51" cy="73.62" r="1.3" fill="#000"/>
<circle cx="541.70" cy="73.40" r="1.3" fill="#000"/>
<circle cx="542.89" cy="73.19" r="1.3" fill="#000"/>
<circle cx="544.08" cy="73.01" r="1.3" fill="#000"/>
<circle cx="545.27" cy="72.86" r="1.3" fill="#000"/>
<circle cx="546.46" cy="72.73" r="1.3" fill="#000"/>
<circle cx="547.65" cy="72.62" r="1.3" fill="#000"/>
<circle cx="548.84" cy="72.53" r="1.3" fill="#000"/>
<circle cx="550.03" cy="72.45" r="1.3" fill="#000"/>
<circle cx="551.22" cy="72.36" r="1.3" fill="#000"/>
<circle cx="552.41" cy="72.28" r="1.3" fill="#000"/>
<circle cx="553.60" cy="72.21" r="1.3" fill="#000"/>
<circle cx="554.79" cy="72.14" r="1.3" fill="#000"/>
<circle cx="555.98" cy="72.07" r="1.3" fill="#000"/>
<circle cx="557.17" cy="72.01" r="1.3" fill="#000"/>
<circle cx="558.36" cy="71.96" r="1.3" fill="#000"/>
<circle cx="559.55" cy="71.91" r="1.3" fill="#000"/>
<circle cx="560.74" cy="71.87" r="1.3" fill="#000"/>
<circle cx="561.93" cy="71.84" r="1.3" fill="#000"/>
<circle cx="563.12" cy="71.82" r="1.3" fill="#000"/>
<circle cx="564.31" cy="71.80" r="1.3" fill="#000"/>
<circle cx="565.50" cy="71.80" r="1.3" fill="#000"/>
<circle cx="566.69" cy="71.80" r="1.3" fill="#000"/>
<circle cx="567.88" cy="71.80" r="1.3" fill="#000"/>
<circle cx="569.07" cy="71.80" r="1.3" fill="#000"/>
<circle cx="570.26" cy="71.80" r="1.3" fill="#000"/>
<circle cx="571.45" cy="71.80" r="1.3" fill="#000"/>
<circle cx="572.64" cy="71.80" r="1.3" fill="#000"/>
<circle cx="573.83" cy="71.80" r="1.3" fill="#000"/>
<circle cx="575.02" cy="71.80" r="1.3" fill="#000"/>
<circle cx="576.21" cy="71.80" r="1.3" fill="#000"/>
<circle cx="577.40" cy="71.80" r="1.3" fill="#000"/>
<circle cx="578.59" cy="71.80" r="1.3" fill="#000"/>
<circle cx="579.78" cy="71.80" r="1.3" fill="#000"/>
<circle cx="580.97" cy="71.80" r="1.3" fill="#000"/>
<circle cx="582.16" cy="71.80" r="1.3" fill="#000"/>
<circle cx="583.35" cy="71.80" r="1.3" fill="#000"/>
<circle cx="584.54" cy="71.80" r="1.3" fill="#000"/>
<circle cx="585.73" cy="71.80" r="1.3" fill="#000"/>
<circle cx="586.92" cy="71.80" r="1.3" fill="#000"/>
<circle cx="588.11" cy="71.80" r="1.3" fill="#000"/>
<circle cx="589.30" cy="71.80" r="1.3" fill="#000"/>
<circle cx="590.49" cy="71.80" r="1.3" fill="#000"/>
<circle cx="591.68" cy="71.81" r="1.3" fill="#000"/>
<circle cx="592.87" cy="71.83" r="1.3" fill="#000"/>
<circle cx="594.06" cy="71.86" r="1.3" fill="#000"/>
<circle cx="595.25" cy="71.89" r="1.3" fill="#000"/>
<circle cx="596.44" cy="71.92" r="1.3" fill="#000"/>
<circle cx="597.63" cy="71.96" r="1.3" fill="#000"/>
<circle cx="598.82" cy="72.01" r="1.3" fill="#000"/>
<circle cx="600.01" cy="72.06" r="1.3" fill="#000"/>
<circle cx="601.20" cy="72.11" r="1.3" fill="#000"/>
<circle cx="602.39" cy="72.16" r="1.3" fill="#000"/>
<circle cx="603.58" cy="72.21" r="1.3" fill="#000"/>
<circle cx="604.77" cy="72.27" r="1.3" fill="#000"/>
<circle cx="605.96" cy="72.32" r="1.3" fill="#000"/>
<circle cx="607.15" cy="72.38" r="1.3" fill="#000"/>
<circle cx="608.34" cy="72.43" r="1.3" fill="#000"/>
<circle cx="609.53" cy="72.48" r="1.3" fill="#000"/>
<circle cx="610.72" cy="72.53" r="1.3" fill="#000"/>
<circle cx="611.91" cy="72.58" r="1.3" fill="#000"/>
<circle cx="613.10" cy="72.62" r="1.3" fill="#000"/>
<line x1="470.30" y1="45.30" x2="470.30" y2="141.10" stroke="#1a1a1a" stroke-width="1.25"/>
<line x1="469.70" y1="140.50" x2="613.70" y2="140.50" stroke="#1a1a1a" stroke-width="1.25"/>
<line x1="466.10" y1="140.50" x2="470.30" y2="140.50" stroke="#1a1a1a" stroke-width="1.1"/>
<text x="465.30" y="143.00" font-size="7.1" font-weight="bold" text-anchor="end">0</text>
<line x1="466.10" y1="116.85" x2="470.30" y2="116.85" stroke="#1a1a1a" stroke-width="1.1"/>
<text x="465.30" y="119.35" font-size="7.1" font-weight="bold" text-anchor="end">10000</text>
<line x1="466.10" y1="93.20" x2="470.30" y2="93.20" stroke="#1a1a1a" stroke-width="1.1"/>
<text x="465.30" y="95.70" font-size="7.1" font-weight="bold" text-anchor="end">20000</text>
<line x1="466.10" y1="69.55" x2="470.30" y2="69.55" stroke="#1a1a1a" stroke-width="1.1"/>
<text x="465.30" y="72.05" font-size="7.1" font-weight="bold" text-anchor="end">30000</text>
<line x1="466.10" y1="45.90" x2="470.30" y2="45.90" stroke="#1a1a1a" stroke-width="1.1"/>
<text x="465.30" y="48.40" font-size="7.1" font-weight="bold" text-anchor="end">40000</text>
<line x1="470.30" y1="140.50" x2="470.30" y2="144.50" stroke="#1a1a1a" stroke-width="1.0"/>
<line x1="476.25" y1="140.50" x2="476.25" y2="142.80" stroke="#1a1a1a" stroke-width="1.0"/>
<line x1="482.20" y1="140.50" x2="482.20" y2="142.80" stroke="#1a1a1a" stroke-width="1.0"/>
<line x1="488.15" y1="140.50" x2="488.15" y2="142.80" stroke="#1a1a1a" stroke-width="1.0"/>
<line x1="494.10" y1="140.50" x2="494.10" y2="142.80" stroke="#1a1a1a" stroke-width="1.0"/>
<line x1="500.05" y1="140.50" x2="500.05" y2="142.80" stroke="#1a1a1a" stroke-width="1.0"/>
<line x1="506.00" y1="140.50" x2="506.00" y2="142.80" stroke="#1a1a1a" stroke-width="1.0"/>
<line x1="511.95" y1="140.50" x2="511.95" y2="142.80" stroke="#1a1a1a" stroke-width="1.0"/>
<line x1="517.90" y1="140.50" x2="517.90" y2="142.80" stroke="#1a1a1a" stroke-width="1.0"/>
<line x1="523.85" y1="140.50" x2="523.85" y2="142.80" stroke="#1a1a1a" stroke-width="1.0"/>
<line x1="529.80" y1="140.50" x2="529.80" y2="144.50" stroke="#1a1a1a" stroke-width="1.0"/>
<line x1="535.75" y1="140.50" x2="535.75" y2="142.80" stroke="#1a1a1a" stroke-width="1.0"/>
<line x1="541.70" y1="140.50" x2="541.70" y2="142.80" stroke="#1a1a1a" stroke-width="1.0"/>
<line x1="547.65" y1="140.50" x2="547.65" y2="142.80" stroke="#1a1a1a" stroke-width="1.0"/>
<line x1="553.60" y1="140.50" x2="553.60" y2="142.80" stroke="#1a1a1a" stroke-width="1.0"/>
<line x1="559.55" y1="140.50" x2="559.55" y2="142.80" stroke="#1a1a1a" stroke-width="1.0"/>
<line x1="565.50" y1="140.50" x2="565.50" y2="142.80" stroke="#1a1a1a" stroke-width="1.0"/>
<line x1="571.45" y1="140.50" x2="571.45" y2="142.80" stroke="#1a1a1a" stroke-width="1.0"/>
<line x1="577.40" y1="140.50" x2="577.40" y2="142.80" stroke="#1a1a1a" stroke-width="1.0"/>
<line x1="583.35" y1="140.50" x2="583.35" y2="142.80" stroke="#1a1a1a" stroke-width="1.0"/>
<line x1="589.30" y1="140.50" x2="589.30" y2="144.50" stroke="#1a1a1a" stroke-width="1.0"/>
<line x1="595.25" y1="140.50" x2="595.25" y2="142.80" stroke="#1a1a1a" stroke-width="1.0"/>
<line x1="601.20" y1="140.50" x2="601.20" y2="142.80" stroke="#1a1a1a" stroke-width="1.0"/>
<line x1="607.15" y1="140.50" x2="607.15" y2="142.80" stroke="#1a1a1a" stroke-width="1.0"/>
<line x1="613.10" y1="140.50" x2="613.10" y2="142.80" stroke="#1a1a1a" stroke-width="1.0"/>
<text x="470.30" y="153.40" font-size="7.1" font-weight="bold" text-anchor="middle">0</text>
<text x="529.80" y="153.40" font-size="7.1" font-weight="bold" text-anchor="middle">50</text>
<text x="589.30" y="153.40" font-size="7.1" font-weight="bold" text-anchor="middle">100</text>
<text x="541.70" y="164.40" font-size="7.5" font-weight="bold" text-anchor="middle">time [min]</text>
<text transform="translate(440.30,93.20) rotate(-90)" font-size="7.6" font-weight="bold" text-anchor="middle">SytoxGreen (AU)</text>
<text x="541.70" y="34.00" font-size="8.8" font-weight="bold" text-anchor="middle">O2_1</text>
<rect x="58.10" y="286.52" width="97.20" height="12.43" fill="#dadada"/>
<line x1="58.10" y1="286.52" x2="155.30" y2="286.52" stroke="#000" stroke-width="0.8" stroke-dasharray="1.3 1"/>
<rect x="65.85" y="247.50" width="15.1" height="51.45" fill="#626262"/>
<rect x="88.25" y="232.90" width="15.1" height="66.05" fill="#626262"/>
<rect x="110.65" y="234.00" width="15.1" height="64.95" fill="#626262"/>
<rect x="133.05" y="233.00" width="15.1" height="65.95" fill="#626262"/>
<line x1="58.10" y1="209.60" x2="58.10" y2="299.55" stroke="#1a1a1a" stroke-width="1.25"/>
<line x1="57.50" y1="298.95" x2="155.30" y2="298.95" stroke="#1a1a1a" stroke-width="1.25"/>
<line x1="53.90" y1="298.95" x2="58.10" y2="298.95" stroke="#1a1a1a" stroke-width="1.1"/>
<text x="53.10" y="301.65" font-size="7.3" font-weight="bold" text-anchor="end">10<tspan font-size="4.8" dy="-3.1">5</tspan></text>
<line x1="53.90" y1="281.20" x2="58.10" y2="281.20" stroke="#1a1a1a" stroke-width="1.1"/>
<text x="53.10" y="283.90" font-size="7.3" font-weight="bold" text-anchor="end">10<tspan font-size="4.8" dy="-3.1">6</tspan></text>
<line x1="53.90" y1="263.45" x2="58.10" y2="263.45" stroke="#1a1a1a" stroke-width="1.1"/>
<text x="53.10" y="266.15" font-size="7.3" font-weight="bold" text-anchor="end">10<tspan font-size="4.8" dy="-3.1">7</tspan></text>
<line x1="53.90" y1="245.70" x2="58.10" y2="245.70" stroke="#1a1a1a" stroke-width="1.1"/>
<text x="53.10" y="248.40" font-size="7.3" font-weight="bold" text-anchor="end">10<tspan font-size="4.8" dy="-3.1">8</tspan></text>
<line x1="53.90" y1="227.95" x2="58.10" y2="227.95" stroke="#1a1a1a" stroke-width="1.1"/>
<text x="53.10" y="230.65" font-size="7.3" font-weight="bold" text-anchor="end">10<tspan font-size="4.8" dy="-3.1">9</tspan></text>
<line x1="53.90" y1="210.20" x2="58.10" y2="210.20" stroke="#1a1a1a" stroke-width="1.1"/>
<text x="53.10" y="212.90" font-size="7.3" font-weight="bold" text-anchor="end">10<tspan font-size="4.8" dy="-3.1">10</tspan></text>
<line x1="73.40" y1="298.95" x2="73.40" y2="302.95" stroke="#1a1a1a" stroke-width="1.1"/>
<line x1="95.80" y1="298.95" x2="95.80" y2="302.95" stroke="#1a1a1a" stroke-width="1.1"/>
<line x1="118.20" y1="298.95" x2="118.20" y2="302.95" stroke="#1a1a1a" stroke-width="1.1"/>
<line x1="140.60" y1="298.95" x2="140.60" y2="302.95" stroke="#1a1a1a" stroke-width="1.1"/>
<text transform="translate(75.30,307.85) rotate(-45)" font-size="7.0" font-weight="bold" text-anchor="end">t0</text>
<text transform="translate(97.70,307.85) rotate(-45)" font-size="7.0" font-weight="bold" text-anchor="end">buffer</text>
<text transform="translate(120.10,307.85) rotate(-45)" font-size="7.0" font-weight="bold" text-anchor="end">10% HPS</text>
<text transform="translate(142.50,307.85) rotate(-45)" font-size="6.85" font-weight="bold" text-anchor="end">10% HPS +OmCl &amp; Eculizumab</text>
<text transform="translate(34.40,254.57) rotate(-90)" font-size="7.6" font-weight="bold" text-anchor="middle">CFU/mL</text>
<text x="107.00" y="180.00" font-size="8.8" font-weight="bold" text-anchor="middle">O1_2</text>
<polyline points="95.60,224.80 95.60,219.20 118.40,219.20 118.40,224.80" fill="none" stroke="#1a1a1a" stroke-width="1.0"/>
<text x="107.00" y="214.80" font-size="7.7" text-anchor="middle">ns</text>
<polyline points="95.60,205.50 95.60,199.90 140.80,199.90 140.80,205.50" fill="none" stroke="#1a1a1a" stroke-width="1.0"/>
<text x="118.20" y="195.50" font-size="7.7" text-anchor="middle">ns</text>
<line x1="73.40" y1="246.30" x2="73.40" y2="248.60" stroke="#000" stroke-width="0.65"/>
<line x1="70.20" y1="246.30" x2="76.60" y2="246.30" stroke="#000" stroke-width="0.7"/>
<line x1="70.20" y1="248.60" x2="76.60" y2="248.60" stroke="#000" stroke-width="0.7"/>
<circle cx="69.40" cy="245.40" r="1.8" fill="#000"/>
<circle cx="69.40" cy="248.20" r="1.8" fill="#000"/>
<circle cx="76.20" cy="247.50" r="1.8" fill="#000"/>
<line x1="95.80" y1="230.60" x2="95.80" y2="235.20" stroke="#000" stroke-width="0.65"/>
<line x1="92.60" y1="230.60" x2="99.00" y2="230.60" stroke="#000" stroke-width="0.7"/>
<line x1="92.60" y1="235.20" x2="99.00" y2="235.20" stroke="#000" stroke-width="0.7"/>
<rect x="94.15" y="227.65" width="3.3" height="3.3" fill="#000"/>
<rect x="90.75" y="232.95" width="3.3" height="3.3" fill="#000"/>
<rect x="97.55" y="232.95" width="3.3" height="3.3" fill="#000"/>
<line x1="118.20" y1="231.60" x2="118.20" y2="236.40" stroke="#000" stroke-width="0.65"/>
<line x1="115.00" y1="231.60" x2="121.40" y2="231.60" stroke="#000" stroke-width="0.7"/>
<line x1="115.00" y1="236.40" x2="121.40" y2="236.40" stroke="#000" stroke-width="0.7"/>
<polygon points="116.25,232.80 120.15,232.80 118.20,229.30" fill="#000"/>
<polygon points="112.85,237.80 116.75,237.80 114.80,234.30" fill="#000"/>
<polygon points="119.65,237.80 123.55,237.80 121.60,234.30" fill="#000"/>
<line x1="140.60" y1="230.40" x2="140.60" y2="236.80" stroke="#000" stroke-width="0.65"/>
<line x1="137.40" y1="230.40" x2="143.80" y2="230.40" stroke="#000" stroke-width="0.7"/>
<line x1="137.40" y1="236.80" x2="143.80" y2="236.80" stroke="#000" stroke-width="0.7"/>
<polygon points="135.05,227.60 138.95,227.60 137.00,231.10" fill="#000"/>
<polygon points="142.05,230.60 145.95,230.60 144.00,234.10" fill="#000"/>
<polygon points="138.65,234.90 142.55,234.90 140.60,238.40" fill="#000"/>
<rect x="270.50" y="286.32" width="97.20" height="12.43" fill="#dadada"/>
<line x1="270.50" y1="286.32" x2="367.70" y2="286.32" stroke="#000" stroke-width="0.8" stroke-dasharray="1.3 1"/>
<rect x="278.25" y="242.90" width="15.1" height="55.85" fill="#626262"/>
<rect x="300.65" y="232.40" width="15.1" height="66.35" fill="#626262"/>
<rect x="323.05" y="232.40" width="15.1" height="66.35" fill="#626262"/>
<rect x="345.45" y="231.30" width="15.1" height="67.45" fill="#626262"/>
<line x1="270.50" y1="209.40" x2="270.50" y2="299.35" stroke="#1a1a1a" stroke-width="1.25"/>
<line x1="269.90" y1="298.75" x2="367.70" y2="298.75" stroke="#1a1a1a" stroke-width="1.25"/>
<line x1="266.30" y1="298.75" x2="270.50" y2="298.75" stroke="#1a1a1a" stroke-width="1.1"/>
<text x="265.50" y="301.45" font-size="7.3" font-weight="bold" text-anchor="end">10<tspan font-size="4.8" dy="-3.1">5</tspan></text>
<line x1="266.30" y1="281.00" x2="270.50" y2="281.00" stroke="#1a1a1a" stroke-width="1.1"/>
<text x="265.50" y="283.70" font-size="7.3" font-weight="bold" text-anchor="end">10<tspan font-size="4.8" dy="-3.1">6</tspan></text>
<line x1="266.30" y1="263.25" x2="270.50" y2="263.25" stroke="#1a1a1a" stroke-width="1.1"/>
<text x="265.50" y="265.95" font-size="7.3" font-weight="bold" text-anchor="end">10<tspan font-size="4.8" dy="-3.1">7</tspan></text>
<line x1="266.30" y1="245.50" x2="270.50" y2="245.50" stroke="#1a1a1a" stroke-width="1.1"/>
<text x="265.50" y="248.20" font-size="7.3" font-weight="bold" text-anchor="end">10<tspan font-size="4.8" dy="-3.1">8</tspan></text>
<line x1="266.30" y1="227.75" x2="270.50" y2="227.75" stroke="#1a1a1a" stroke-width="1.1"/>
<text x="265.50" y="230.45" font-size="7.3" font-weight="bold" text-anchor="end">10<tspan font-size="4.8" dy="-3.1">9</tspan></text>
<line x1="266.30" y1="210.00" x2="270.50" y2="210.00" stroke="#1a1a1a" stroke-width="1.1"/>
<text x="265.50" y="212.70" font-size="7.3" font-weight="bold" text-anchor="end">10<tspan font-size="4.8" dy="-3.1">10</tspan></text>
<line x1="285.80" y1="298.75" x2="285.80" y2="302.75" stroke="#1a1a1a" stroke-width="1.1"/>
<line x1="308.20" y1="298.75" x2="308.20" y2="302.75" stroke="#1a1a1a" stroke-width="1.1"/>
<line x1="330.60" y1="298.75" x2="330.60" y2="302.75" stroke="#1a1a1a" stroke-width="1.1"/>
<line x1="353.00" y1="298.75" x2="353.00" y2="302.75" stroke="#1a1a1a" stroke-width="1.1"/>
<text transform="translate(287.70,307.65) rotate(-45)" font-size="7.0" font-weight="bold" text-anchor="end">t0</text>
<text transform="translate(310.10,307.65) rotate(-45)" font-size="7.0" font-weight="bold" text-anchor="end">buffer</text>
<text transform="translate(332.50,307.65) rotate(-45)" font-size="7.0" font-weight="bold" text-anchor="end">10% HPS</text>
<text transform="translate(354.90,307.65) rotate(-45)" font-size="6.85" font-weight="bold" text-anchor="end">10% HPS +OmCl &amp; Eculizumab</text>
<text transform="translate(246.80,254.38) rotate(-90)" font-size="7.6" font-weight="bold" text-anchor="middle">CFU/mL</text>
<text x="319.40" y="179.80" font-size="8.8" font-weight="bold" text-anchor="middle">O1_1</text>
<polyline points="308.00,224.70 308.00,219.10 330.80,219.10 330.80,224.70" fill="none" stroke="#1a1a1a" stroke-width="1.0"/>
<text x="319.40" y="214.70" font-size="7.7" text-anchor="middle">ns</text>
<polyline points="308.00,205.30 308.00,199.70 353.20,199.70 353.20,205.30" fill="none" stroke="#1a1a1a" stroke-width="1.0"/>
<text x="330.60" y="195.30" font-size="7.7" text-anchor="middle">ns</text>
<line x1="285.80" y1="241.80" x2="285.80" y2="243.80" stroke="#000" stroke-width="0.65"/>
<line x1="282.60" y1="241.80" x2="289.00" y2="241.80" stroke="#000" stroke-width="0.7"/>
<line x1="282.60" y1="243.80" x2="289.00" y2="243.80" stroke="#000" stroke-width="0.7"/>
<circle cx="280.60" cy="243.70" r="1.8" fill="#000"/>
<circle cx="285.80" cy="241.00" r="1.8" fill="#000"/>
<circle cx="291.20" cy="243.40" r="1.8" fill="#000"/>
<line x1="308.20" y1="231.00" x2="308.20" y2="234.00" stroke="#000" stroke-width="0.65"/>
<line x1="305.00" y1="231.00" x2="311.40" y2="231.00" stroke="#000" stroke-width="0.7"/>
<line x1="305.00" y1="234.00" x2="311.40" y2="234.00" stroke="#000" stroke-width="0.7"/>
<rect x="300.95" y="233.35" width="3.3" height="3.3" fill="#000"/>
<rect x="306.55" y="229.65" width="3.3" height="3.3" fill="#000"/>
<rect x="312.15" y="230.35" width="3.3" height="3.3" fill="#000"/>
<line x1="330.60" y1="229.60" x2="330.60" y2="235.00" stroke="#000" stroke-width="0.65"/>
<line x1="327.40" y1="229.60" x2="333.80" y2="229.60" stroke="#000" stroke-width="0.7"/>
<line x1="327.40" y1="235.00" x2="333.80" y2="235.00" stroke="#000" stroke-width="0.7"/>
<polygon points="328.65,231.80 332.55,231.80 330.60,228.30" fill="#000"/>
<polygon points="325.05,235.70 328.95,235.70 327.00,232.20" fill="#000"/>
<polygon points="332.05,235.70 335.95,235.70 334.00,232.20" fill="#000"/>
<line x1="353.00" y1="229.80" x2="353.00" y2="233.60" stroke="#000" stroke-width="0.65"/>
<line x1="349.80" y1="229.80" x2="356.20" y2="229.80" stroke="#000" stroke-width="0.7"/>
<line x1="349.80" y1="233.60" x2="356.20" y2="233.60" stroke="#000" stroke-width="0.7"/>
<polygon points="347.45,227.80 351.35,227.80 349.40,231.30" fill="#000"/>
<polygon points="355.35,228.60 359.25,228.60 357.30,232.10" fill="#000"/>
<polygon points="347.45,231.80 351.35,231.80 349.40,235.30" fill="#000"/>
<rect x="481.40" y="287.62" width="97.20" height="12.43" fill="#dadada"/>
<line x1="481.40" y1="287.62" x2="578.60" y2="287.62" stroke="#000" stroke-width="0.8" stroke-dasharray="1.3 1"/>
<rect x="489.15" y="245.40" width="15.1" height="54.65" fill="#626262"/>
<rect x="511.55" y="228.70" width="15.1" height="71.35" fill="#626262"/>
<rect x="533.95" y="254.30" width="15.1" height="45.75" fill="#626262"/>
<rect x="556.35" y="230.70" width="15.1" height="69.35" fill="#626262"/>
<line x1="481.40" y1="210.70" x2="481.40" y2="300.65" stroke="#1a1a1a" stroke-width="1.25"/>
<line x1="480.80" y1="300.05" x2="578.60" y2="300.05" stroke="#1a1a1a" stroke-width="1.25"/>
<line x1="477.20" y1="300.05" x2="481.40" y2="300.05" stroke="#1a1a1a" stroke-width="1.1"/>
<text x="476.40" y="302.75" font-size="7.3" font-weight="bold" text-anchor="end">10<tspan font-size="4.8" dy="-3.1">5</tspan></text>
<line x1="477.20" y1="282.30" x2="481.40" y2="282.30" stroke="#1a1a1a" stroke-width="1.1"/>
<text x="476.40" y="285.00" font-size="7.3" font-weight="bold" text-anchor="end">10<tspan font-size="4.8" dy="-3.1">6</tspan></text>
<line x1="477.20" y1="264.55" x2="481.40" y2="264.55" stroke="#1a1a1a" stroke-width="1.1"/>
<text x="476.40" y="267.25" font-size="7.3" font-weight="bold" text-anchor="end">10<tspan font-size="4.8" dy="-3.1">7</tspan></text>
<line x1="477.20" y1="246.80" x2="481.40" y2="246.80" stroke="#1a1a1a" stroke-width="1.1"/>
<text x="476.40" y="249.50" font-size="7.3" font-weight="bold" text-anchor="end">10<tspan font-size="4.8" dy="-3.1">8</tspan></text>
<line x1="477.20" y1="229.05" x2="481.40" y2="229.05" stroke="#1a1a1a" stroke-width="1.1"/>
<text x="476.40" y="231.75" font-size="7.3" font-weight="bold" text-anchor="end">10<tspan font-size="4.8" dy="-3.1">9</tspan></text>
<line x1="477.20" y1="211.30" x2="481.40" y2="211.30" stroke="#1a1a1a" stroke-width="1.1"/>
<text x="476.40" y="214.00" font-size="7.3" font-weight="bold" text-anchor="end">10<tspan font-size="4.8" dy="-3.1">10</tspan></text>
<line x1="496.70" y1="300.05" x2="496.70" y2="304.05" stroke="#1a1a1a" stroke-width="1.1"/>
<line x1="519.10" y1="300.05" x2="519.10" y2="304.05" stroke="#1a1a1a" stroke-width="1.1"/>
<line x1="541.50" y1="300.05" x2="541.50" y2="304.05" stroke="#1a1a1a" stroke-width="1.1"/>
<line x1="563.90" y1="300.05" x2="563.90" y2="304.05" stroke="#1a1a1a" stroke-width="1.1"/>
<text transform="translate(498.60,308.95) rotate(-45)" font-size="7.0" font-weight="bold" text-anchor="end">t0</text>
<text transform="translate(521.00,308.95) rotate(-45)" font-size="7.0" font-weight="bold" text-anchor="end">buffer</text>
<text transform="translate(543.40,308.95) rotate(-45)" font-size="7.0" font-weight="bold" text-anchor="end">10% HPS</text>
<text transform="translate(565.80,308.95) rotate(-45)" font-size="6.85" font-weight="bold" text-anchor="end">10% HPS +OmCl &amp; Eculizumab</text>
<text transform="translate(457.70,255.68) rotate(-90)" font-size="7.6" font-weight="bold" text-anchor="middle">CFU/mL</text>
<text x="530.30" y="181.60" font-size="8.8" font-weight="bold" text-anchor="middle">O2_1</text>
<polyline points="518.90,224.10 518.90,218.50 541.70,218.50 541.70,224.10" fill="none" stroke="#1a1a1a" stroke-width="1.0"/>
<text x="530.30" y="218.80" font-size="13.6" font-weight="bold" text-anchor="middle" stroke="#000" stroke-width="0.45">****</text>
<polyline points="518.90,206.20 518.90,200.60 564.10,200.60 564.10,206.20" fill="none" stroke="#1a1a1a" stroke-width="1.0"/>
<text x="541.50" y="196.20" font-size="7.7" text-anchor="middle">ns</text>
<line x1="496.70" y1="244.20" x2="496.70" y2="246.80" stroke="#000" stroke-width="0.65"/>
<line x1="493.50" y1="244.20" x2="499.90" y2="244.20" stroke="#000" stroke-width="0.7"/>
<line x1="493.50" y1="246.80" x2="499.90" y2="246.80" stroke="#000" stroke-width="0.7"/>
<circle cx="491.50" cy="246.60" r="1.8" fill="#000"/>
<circle cx="496.70" cy="243.40" r="1.8" fill="#000"/>
<circle cx="502.10" cy="246.80" r="1.8" fill="#000"/>
<line x1="519.10" y1="228.60" x2="519.10" y2="230.20" stroke="#000" stroke-width="0.65"/>
<line x1="515.90" y1="228.60" x2="522.30" y2="228.60" stroke="#000" stroke-width="0.7"/>
<line x1="515.90" y1="230.20" x2="522.30" y2="230.20" stroke="#000" stroke-width="0.7"/>
<rect x="512.25" y="228.95" width="3.3" height="3.3" fill="#000"/>
<rect x="517.45" y="227.35" width="3.3" height="3.3" fill="#000"/>
<rect x="522.85" y="228.35" width="3.3" height="3.3" fill="#000"/>
<line x1="541.50" y1="248.60" x2="541.50" y2="300.05" stroke="#000" stroke-width="0.65"/>
<line x1="538.30" y1="248.60" x2="544.70" y2="248.60" stroke="#000" stroke-width="0.7"/>
<polygon points="539.55,250.20 543.45,250.20 541.50,246.70" fill="#000"/>
<polygon points="539.55,260.60 543.45,260.60 541.50,257.10" fill="#000"/>
<polygon points="539.55,269.10 543.45,269.10 541.50,265.60" fill="#000"/>
<line x1="563.90" y1="229.80" x2="563.90" y2="231.40" stroke="#000" stroke-width="0.65"/>
<line x1="560.70" y1="229.80" x2="567.10" y2="229.80" stroke="#000" stroke-width="0.7"/>
<line x1="560.70" y1="231.40" x2="567.10" y2="231.40" stroke="#000" stroke-width="0.7"/>
<polygon points="556.55,230.00 560.45,230.00 558.50,233.50" fill="#000"/>
<polygon points="561.95,228.20 565.85,228.20 563.90,231.70" fill="#000"/>
<polygon points="567.35,229.40 571.25,229.40 569.30,232.90" fill="#000"/>
<line x1="153.85" y1="409.80" x2="153.85" y2="616.65" stroke="#000" stroke-width="1.35"/>
<line x1="153.20" y1="616.00" x2="463.30" y2="616.00" stroke="#000" stroke-width="1.35"/>
<line x1="149.45" y1="616.00" x2="153.85" y2="616.00" stroke="#000" stroke-width="1.25"/>
<text x="147.85" y="621.20" font-size="14.6" font-weight="bold" text-anchor="end">0</text>
<line x1="149.45" y1="574.90" x2="153.85" y2="574.90" stroke="#000" stroke-width="1.25"/>
<text x="147.85" y="580.10" font-size="14.6" font-weight="bold" text-anchor="end">2</text>
<line x1="149.45" y1="533.80" x2="153.85" y2="533.80" stroke="#000" stroke-width="1.25"/>
<text x="147.85" y="539.00" font-size="14.6" font-weight="bold" text-anchor="end">4</text>
<line x1="149.45" y1="492.70" x2="153.85" y2="492.70" stroke="#000" stroke-width="1.25"/>
<text x="147.85" y="497.90" font-size="14.6" font-weight="bold" text-anchor="end">6</text>
<line x1="149.45" y1="451.60" x2="153.85" y2="451.60" stroke="#000" stroke-width="1.25"/>
<text x="147.85" y="456.80" font-size="14.6" font-weight="bold" text-anchor="end">8</text>
<line x1="149.45" y1="410.50" x2="153.85" y2="410.50" stroke="#000" stroke-width="1.25"/>
<text x="147.85" y="415.70" font-size="14.6" font-weight="bold" text-anchor="end">10</text>
<line x1="153.85" y1="616.00" x2="153.85" y2="620.40" stroke="#000" stroke-width="1.25"/>
<text x="153.85" y="635.60" font-size="14.6" font-weight="bold" text-anchor="middle">0</text>
<line x1="169.29" y1="616.00" x2="169.29" y2="619.00" stroke="#000" stroke-width="1.25"/>
<line x1="184.73" y1="616.00" x2="184.73" y2="619.00" stroke="#000" stroke-width="1.25"/>
<line x1="200.17" y1="616.00" x2="200.17" y2="619.00" stroke="#000" stroke-width="1.25"/>
<line x1="215.61" y1="616.00" x2="215.61" y2="619.00" stroke="#000" stroke-width="1.25"/>
<line x1="231.05" y1="616.00" x2="231.05" y2="620.40" stroke="#000" stroke-width="1.25"/>
<text x="231.05" y="635.60" font-size="14.6" font-weight="bold" text-anchor="middle">5</text>
<line x1="246.49" y1="616.00" x2="246.49" y2="619.00" stroke="#000" stroke-width="1.25"/>
<line x1="261.93" y1="616.00" x2="261.93" y2="619.00" stroke="#000" stroke-width="1.25"/>
<line x1="277.37" y1="616.00" x2="277.37" y2="619.00" stroke="#000" stroke-width="1.25"/>
<line x1="292.81" y1="616.00" x2="292.81" y2="619.00" stroke="#000" stroke-width="1.25"/>
<line x1="308.25" y1="616.00" x2="308.25" y2="620.40" stroke="#000" stroke-width="1.25"/>
<text x="308.25" y="635.60" font-size="14.6" font-weight="bold" text-anchor="middle">10</text>
<line x1="323.69" y1="616.00" x2="323.69" y2="619.00" stroke="#000" stroke-width="1.25"/>
<line x1="339.13" y1="616.00" x2="339.13" y2="619.00" stroke="#000" stroke-width="1.25"/>
<line x1="354.57" y1="616.00" x2="354.57" y2="619.00" stroke="#000" stroke-width="1.25"/>
<line x1="370.01" y1="616.00" x2="370.01" y2="619.00" stroke="#000" stroke-width="1.25"/>
<line x1="385.45" y1="616.00" x2="385.45" y2="620.40" stroke="#000" stroke-width="1.25"/>
<text x="385.45" y="635.60" font-size="14.6" font-weight="bold" text-anchor="middle">15</text>
<line x1="400.89" y1="616.00" x2="400.89" y2="619.00" stroke="#000" stroke-width="1.25"/>
<line x1="416.33" y1="616.00" x2="416.33" y2="619.00" stroke="#000" stroke-width="1.25"/>
<line x1="431.77" y1="616.00" x2="431.77" y2="619.00" stroke="#000" stroke-width="1.25"/>
<line x1="447.21" y1="616.00" x2="447.21" y2="619.00" stroke="#000" stroke-width="1.25"/>
<line x1="462.65" y1="616.00" x2="462.65" y2="620.40" stroke="#000" stroke-width="1.25"/>
<text x="462.65" y="635.60" font-size="14.6" font-weight="bold" text-anchor="middle">20</text>
<line x1="184.60" y1="411.20" x2="184.60" y2="615.50" stroke="#000" stroke-width="1.5" stroke-dasharray="1.5 1.65"/>
<line x1="156.00" y1="595.80" x2="461.65" y2="595.80" stroke="#000" stroke-width="1.5" stroke-dasharray="1.5 1.48"/>
<circle cx="181.1" cy="432" r="3.8" fill="#d2d2d2"/>
<circle cx="217.2" cy="456.5" r="3.8" fill="#d2d2d2"/>
<circle cx="173.8" cy="503.2" r="3.8" fill="#d2d2d2"/>
<circle cx="178.8" cy="503.2" r="3.8" fill="#d2d2d2"/>
<circle cx="201.7" cy="512.6" r="3.8" fill="#d2d2d2"/>
<circle cx="244.2" cy="499.8" r="3.8" fill="#d2d2d2"/>
<circle cx="242.4" cy="509.6" r="3.8" fill="#d2d2d2"/>
<circle cx="225.1" cy="525.5" r="3.8" fill="#d2d2d2"/>
<circle cx="276.4" cy="530.7" r="3.8" fill="#d2d2d2"/>
<circle cx="210.6" cy="546.3" r="3.8" fill="#d2d2d2"/>
<circle cx="266.7" cy="575.7" r="3.8" fill="#d2d2d2"/>
<circle cx="289.8" cy="562.7" r="3.8" fill="#d2d2d2"/>
<circle cx="310.4" cy="597.8" r="3.8" fill="#d2d2d2"/>
<circle cx="163.2" cy="472.7" r="3.8" fill="#e9372a"/>
<circle cx="168.8" cy="498" r="3.8" fill="#e9372a"/>
<circle cx="168.8" cy="506.6" r="3.8" fill="#e9372a"/>
<circle cx="174.5" cy="540.6" r="3.8" fill="#e9372a"/>
<circle cx="201.1" cy="539.6" r="3.8" fill="#e9372a"/>
<circle cx="224.2" cy="515.4" r="3.8" fill="#3a50a5"/>
<circle cx="301.8" cy="542.1" r="3.8" fill="#3a50a5"/>
<circle cx="283.8" cy="612.4" r="3.8" fill="#3a50a5"/>
<circle cx="379.6" cy="614.5" r="3.8" fill="#3a50a5"/>
<circle cx="403.8" cy="609.6" r="3.8" fill="#3a50a5"/>
<text x="187.30" y="435.70" font-size="10.6">Ox_2</text>
<text x="222.60" y="460.10" font-size="10.6">O4_3</text>
<text x="167.50" y="474.40" font-size="10.6">O1_3</text>
<text x="158.40" y="491.90" font-size="10.6">O1_2</text>
<text x="180.60" y="498.70" font-size="10.6">O4_2</text>
<text x="185.60" y="507.30" font-size="10.6">O3_2</text>
<text x="215.10" y="510.10" font-size="10.6">O2_2</text>
<text x="247.60" y="502.10" font-size="10.6">O5_2</text>
<text x="247.60" y="513.00" font-size="10.6">O5_1</text>
<text x="161.30" y="521.50" font-size="10.6">O1_4</text>
<text x="194.70" y="525.00" font-size="10.6">O3_5</text>
<text x="230.60" y="529.40" font-size="10.6">O3_4</text>
<text x="205.80" y="540.20" font-size="10.6">O1_1</text>
<text x="170.00" y="553.80" font-size="10.6">O1_5</text>
<text x="215.80" y="552.20" font-size="10.6">O4_1</text>
<text x="272.00" y="579.00" font-size="10.6">Ox_1</text>
<text x="281.60" y="534.20" font-size="10.6">O104_1</text>
<text x="307.00" y="545.50" font-size="10.6">O2_3</text>
<text x="295.60" y="565.90" font-size="10.6">O3_3</text>
<text x="316.60" y="601.30" font-size="10.6">O3_1</text>
<text x="290.00" y="616.40" font-size="10.6">O2_5</text>
<text x="372.30" y="608.10" font-size="10.6">O2_4</text>
<text x="409.70" y="613.80" font-size="10.6">O2_1</text>
<text x="154.60" y="406.00" font-size="9.0" font-weight="bold">resistant</text>
<text x="309.30" y="475.60" font-size="9.0" font-weight="bold">intermediate-resistant</text>
<text x="443.00" y="609.70" font-size="9.0" font-weight="bold">sensitive</text>
<text x="308.30" y="656.40" font-size="16.5" font-weight="bold" text-anchor="middle">fold Sytox</text>
<text x="308.3" y="675.8" font-size="16.8" text-anchor="middle">(Sytox vs. buffer at t<tspan font-size="11.4" dy="5.4">120</tspan><tspan dy="-5.4">)</tspan></text>
<text transform="translate(101.6,507) rotate(-90)" font-size="16.5" font-weight="bold" text-anchor="middle">fold survival</text>
<text transform="translate(121.4,507) rotate(-90)" font-size="16.8" text-anchor="middle">(10% NHS vs. t<tspan font-size="11.4" dy="5.4">0</tspan><tspan dy="-5.4">)</tspan></text>
</svg>
</body></html>
